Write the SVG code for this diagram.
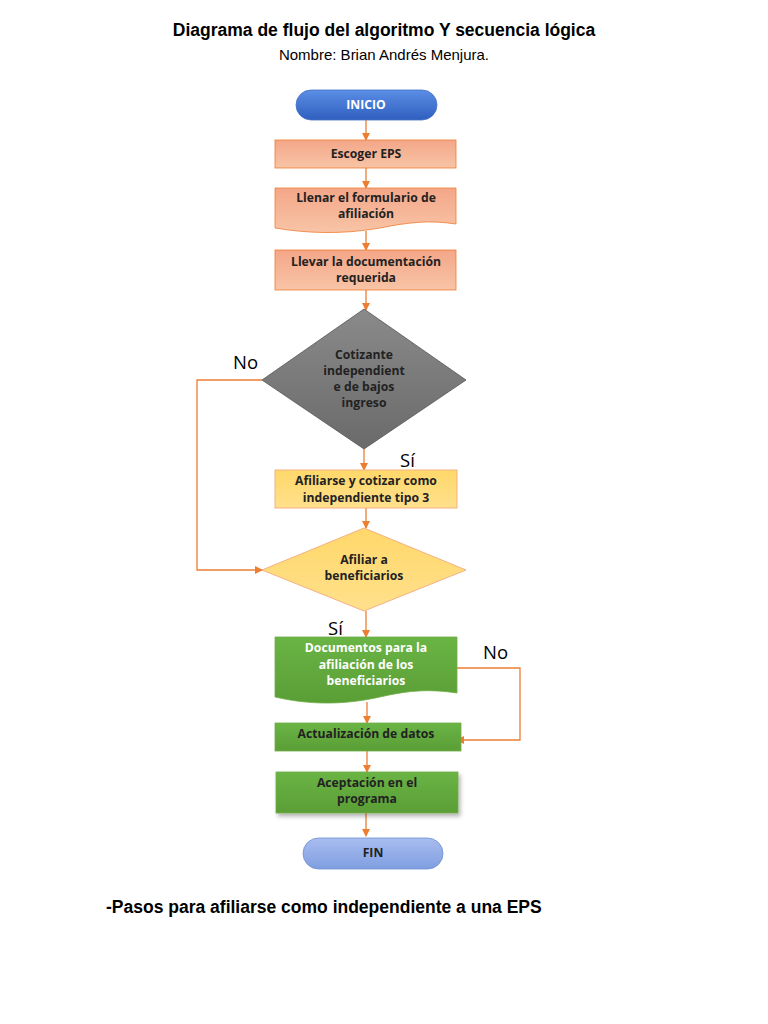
<svg xmlns="http://www.w3.org/2000/svg" width="768" height="1024" viewBox="0 0 768 1024">
<defs>
<linearGradient id="gBlue" x1="0" y1="0" x2="0" y2="1"><stop offset="0" stop-color="#5b8ee6"/><stop offset="1" stop-color="#2f5fbf"/></linearGradient>
<linearGradient id="gFin" x1="0" y1="0" x2="0" y2="1"><stop offset="0" stop-color="#a9bdf0"/><stop offset="1" stop-color="#7f9ee0"/></linearGradient>
<linearGradient id="gSal" x1="0" y1="0" x2="0" y2="1"><stop offset="0" stop-color="#f4a688"/><stop offset="1" stop-color="#f8c4a6"/></linearGradient>
<linearGradient id="gGray" x1="0" y1="0" x2="0" y2="1"><stop offset="0" stop-color="#8a8a8a"/><stop offset="1" stop-color="#6a6a6a"/></linearGradient>
<linearGradient id="gYel" x1="0" y1="0" x2="0" y2="1"><stop offset="0" stop-color="#ffd86a"/><stop offset="1" stop-color="#ffe08c"/></linearGradient>
<linearGradient id="gGrn" x1="0" y1="0" x2="0" y2="1"><stop offset="0" stop-color="#6ab445"/><stop offset="1" stop-color="#5a9e36"/></linearGradient>
<marker id="ah" markerWidth="8" markerHeight="8" refX="7" refY="4" orient="auto" markerUnits="userSpaceOnUse"><path d="M0,0 L8,4 L0,8 Z" fill="#ed7d31"/></marker>
<filter id="sh" x="-10%" y="-20%" width="130%" height="160%"><feDropShadow dx="2" dy="3" stdDeviation="2" flood-color="#000" flood-opacity="0.3"/></filter>
</defs>
<style>
.t{font-family:"Liberation Sans",Arial,sans-serif;fill:#000}
.n{font-family:"Open Sans","Noto Sans",sans-serif;font-weight:bold;font-size:12.2px;text-anchor:middle;fill:#222}
.w{fill:#fff}
.lbl{font-family:"Open Sans","Noto Sans",sans-serif;font-size:18.5px;fill:#000}
.c{fill:none;stroke:#ed7d31;stroke-width:1.3}
.sal{fill:url(#gSal);stroke:#ed7d31;stroke-width:0.8}
.yel{fill:url(#gYel);stroke:#f4b183;stroke-width:1}
.grn{fill:url(#gGrn);stroke:#70ad47;stroke-width:0.8}
</style>
<rect width="768" height="1024" fill="#fff"/>
<text class="t" x="384" y="36" font-size="17.5" font-weight="bold" text-anchor="middle">Diagrama de flujo del algoritmo Y secuencia lógica</text>
<text class="t" x="384" y="60" font-size="15" text-anchor="middle">Nombre: Brian Andrés Menjura.</text>

<g id="connectors">
<path class="c" d="M366,120 V140" marker-end="url(#ah)"/>
<path class="c" d="M366,168 V188" marker-end="url(#ah)"/>
<path class="c" d="M366,231 V250" marker-end="url(#ah)"/>
<path class="c" d="M366,290 V310" marker-end="url(#ah)"/>
<path class="c" d="M364,449 V470" marker-end="url(#ah)"/>
<path class="c" d="M262,380 H197 V570 H262" marker-end="url(#ah)"/>
<path class="c" d="M366,508 V528" marker-end="url(#ah)"/>
<path class="c" d="M366,611 V637" marker-end="url(#ah)"/>
<path class="c" d="M457,668 H520 V740 H457" marker-end="url(#ah)"/>
<path class="c" d="M367,702 V723" marker-end="url(#ah)"/>
<path class="c" d="M367,751 V772" marker-end="url(#ah)"/>
<path class="c" d="M366,813 V836" marker-end="url(#ah)"/>
</g>
<text class="lbl" x="233" y="369">No</text>
<text class="lbl" x="400" y="467">Sí</text>
<text class="lbl" x="328" y="635">Sí</text>
<text class="lbl" x="483" y="659">No</text>

<g id="inicio">
<rect x="296" y="90" width="141" height="30" rx="15" fill="url(#gBlue)" stroke="#4472c4" stroke-width="0.8"/>
<text class="n w" x="366" y="109">INICIO</text>
</g>
<g id="escoger">
<rect class="sal" x="275" y="140" width="181" height="28"/>
<text class="n" x="366" y="158">Escoger EPS</text>
</g>
<g id="llenar">
<path class="sal" d="M275,188 H456 V224 C430,220 410,222 380,228 C340,235 305,233 275,228 Z"/>
<text class="n" x="366" y="202">Llenar el formulario de</text>
<text class="n" x="366" y="218">afiliación</text>
</g>
<g id="llevar">
<rect class="sal" x="275" y="250" width="181" height="40"/>
<text class="n" x="366" y="266">Llevar la documentación</text>
<text class="n" x="366" y="282">requerida</text>
</g>
<g id="cotizante">
<path d="M364,309 L466,380 L364,449 L262,380 Z" fill="url(#gGray)" stroke="#555" stroke-width="0.8"/>
<text class="n" x="364" y="359">Cotizante</text>
<text class="n" x="364" y="375">independient</text>
<text class="n" x="364" y="391">e de bajos</text>
<text class="n" x="364" y="407">ingreso</text>
</g>
<g id="afiliarse">
<rect class="yel" x="275" y="470" width="182" height="38"/>
<text class="n" x="366" y="485">Afiliarse y cotizar como</text>
<text class="n" x="366" y="502">independiente tipo 3</text>
</g>
<g id="afiliar">
<path class="yel" d="M364,528 L466,570 L364,611 L262,570 Z"/>
<text class="n" x="364" y="564">Afiliar a</text>
<text class="n" x="364" y="580">beneficiarios</text>
</g>
<g id="documentos">
<path class="grn" d="M275,637 H457 V693 C430,689 410,690 380,697 C340,706 305,704 275,697 Z"/>
<text class="n w" x="366" y="652">Documentos para la</text>
<text class="n w" x="366" y="669">afiliación de los</text>
<text class="n w" x="366" y="685">beneficiarios</text>
</g>
<g id="actualizacion">
<rect class="grn" x="275" y="723" width="186" height="28"/>
<text class="n" x="366" y="738">Actualización de datos</text>
</g>
<g id="aceptacion">
<rect class="grn" x="276" y="772" width="182" height="41" filter="url(#sh)"/>
<text class="n" x="367" y="787">Aceptación en el</text>
<text class="n" x="367" y="803">programa</text>
</g>
<g id="fin">
<rect x="303" y="838" width="140" height="31" rx="15.5" fill="url(#gFin)" stroke="#6f8fd0" stroke-width="0.8"/>
<text class="n" x="373" y="857">FIN</text>
</g>
<text class="t" x="106" y="913" font-size="17.5" font-weight="bold">-Pasos para afiliarse como independiente a una EPS</text>
</svg>
